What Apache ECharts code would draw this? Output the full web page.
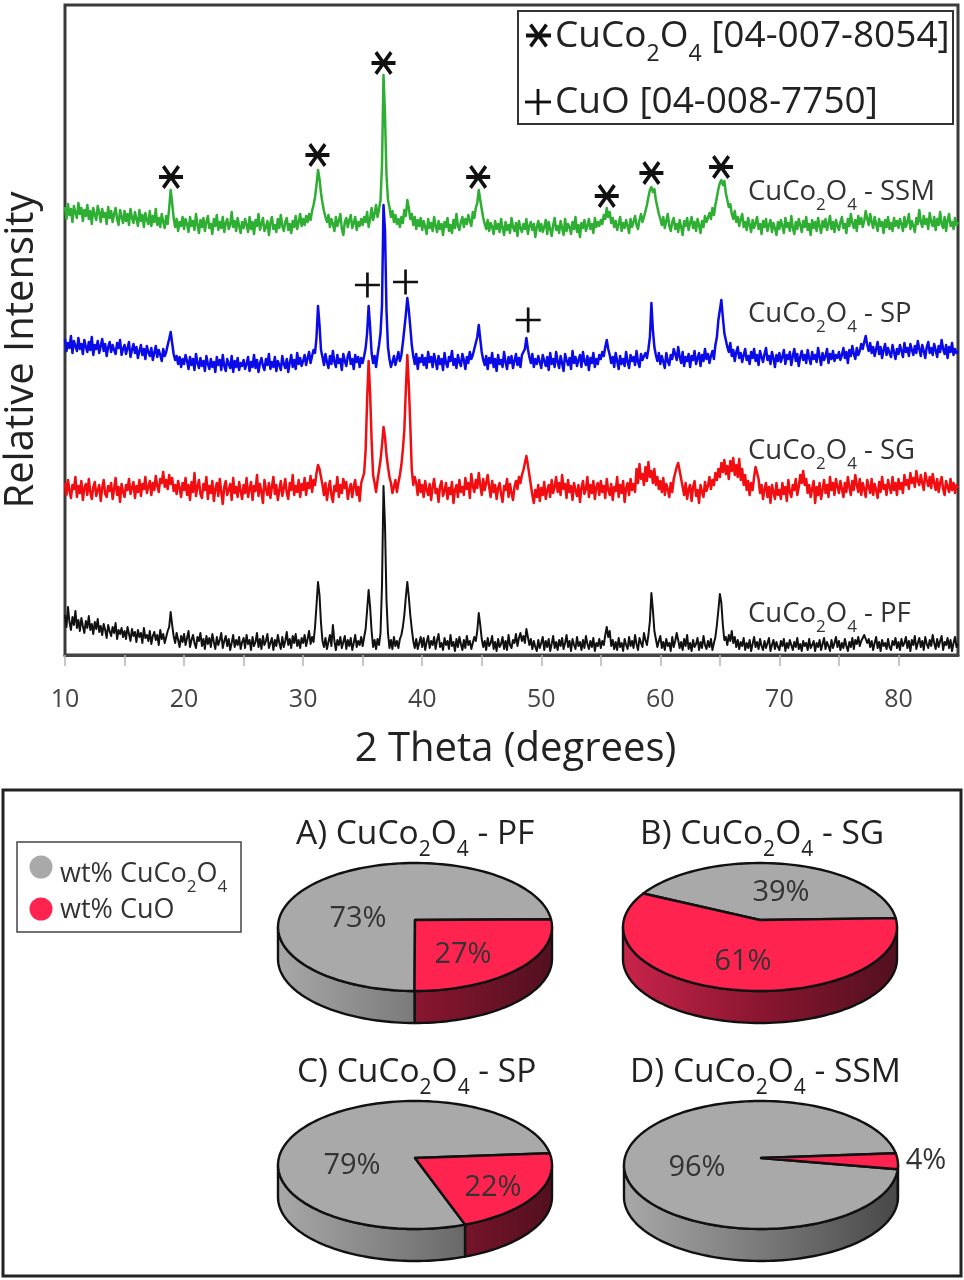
<!DOCTYPE html>
<html>
<head>
<meta charset="utf-8">
<style>html,body{margin:0;padding:0;background:#fff}#chart{width:964px;height:1280px}</style>
<script src="https://cdn.jsdelivr.net/npm/echarts@6/dist/echarts.min.js"></script>
</head>
<body>
<div id="chart"></div>
<script>
// Diffraction scans, stacked with vertical offsets. One row per 5 degrees, 0.125 degree step.
const spectrumSSM = [
448,436,451,440,446,433,449,442,437,452,441,447,434,445,439,450,436,444,431,447,440,435,449,443,433,446,438,442,431,448,437,444,433,441,447,436,430,445,438,432,
444,434,441,430,446,437,432,443,436,429,445,434,440,428,442,435,431,444,429,439,433,446,430,437,428,441,433,427,439,431,447,465,452,437,428,436,424,433,429,438,
426,436,431,423,438,429,434,425,441,430,422,435,428,437,424,433,439,427,431,421,436,429,440,425,433,427,438,423,432,436,426,430,443,428,434,424,437,429,422,433,
427,436,430,423,438,426,433,421,435,429,441,425,431,437,424,428,434,420,432,438,426,430,423,436,427,440,429,424,433,437,425,431,422,434,428,439,426,433,441,429,
436,430,439,433,441,435,444,450,458,470,485,476,462,452,444,438,433,440,428,436,431,424,438,429,434,441,426,420,433,437,428,435,440,427,432,438,425,433,429,436,
430,438,433,443,428,436,447,435,441,450,438,446,455,490,580,540,480,455,448,438,444,433,440,431,436,428,438,432,445,439,455,447,436,441,430,438,426,435,429,437,
425,434,428,421,436,427,432,424,438,429,423,434,426,431,420,433,428,437,424,430,422,435,427,441,429,425,433,438,428,436,431,440,434,429,443,437,447,452,465,455,
446,437,431,426,435,424,432,428,421,434,426,431,423,436,427,420,433,425,430,422,437,428,424,432,419,434,427,423,431,426,436,421,429,433,425,431,418,428,434,424,
431,423,428,435,421,433,426,419,430,437,425,429,422,434,427,420,436,424,431,428,421,433,426,438,423,430,418,432,427,435,424,429,436,426,431,422,437,428,433,429,
435,431,440,436,447,438,443,432,437,428,434,425,431,438,424,432,427,435,429,422,436,428,433,439,430,426,435,441,433,438,444,450,458,465,468,463,466,455,448,441,
436,430,438,427,434,441,429,424,433,437,426,431,423,435,428,420,434,429,437,425,432,438,427,433,424,436,430,422,434,428,439,433,437,442,436,447,440,450,458,466,
472,475,470,474,462,455,448,451,441,436,444,433,438,429,436,441,428,433,425,437,430,423,435,427,432,438,426,431,421,434,428,436,424,430,435,423,432,427,420,433,
426,435,429,422,437,428,432,424,439,427,421,433,426,436,430,423,434,428,438,425,431,420,435,427,433,424,437,429,422,434,428,436,425,431,439,426,433,423,435,429,
425,433,438,427,431,422,436,429,441,432,427,435,424,439,431,437,428,434,444,436,430,441,433,427,438,431,424,436,429,433,422,435,428,438,426,432,424,437,429,434,
427,436,431,424,438,428,433,441,426,434,429,423,437,431,445,433,428,439,431,436,426,442,433,429,438,425,436,430,443,431,427,438,424,435,441,429,433,426,437,430,
433];
const spectrumSP = [
316,304,312,307,319,302,314,309,304,317,306,311,301,315,308,303,313,305,318,300,310,306,314,302,309,316,304,311,299,308,313,303,310,305,301,312,307,315,300,306,
310,301,307,313,298,305,311,302,308,297,304,310,300,306,296,309,303,299,307,295,302,309,298,305,300,294,306,299,303,310,316,323,312,301,295,299,291,298,288,296,
291,300,294,286,298,290,296,285,301,292,287,297,289,294,284,299,291,286,296,288,293,283,298,290,295,285,300,289,284,296,291,287,299,283,294,288,297,285,292,289,
295,286,291,298,284,293,288,300,287,295,283,292,297,289,285,296,290,301,286,293,288,298,284,294,290,285,299,291,287,296,283,292,300,288,295,286,302,291,297,289,
294,300,290,297,303,292,299,305,302,318,349,330,305,298,290,301,293,287,299,291,304,293,288,300,292,296,285,301,294,289,299,303,291,296,286,300,293,298,288,297,
292,299,307,322,349,328,302,292,299,288,300,310,322,350,450,425,345,308,296,288,293,299,290,296,303,294,300,312,326,340,357,345,328,310,299,291,301,286,297,293,
300,290,297,287,303,293,298,288,301,294,286,299,291,296,285,302,292,288,298,294,304,290,296,287,300,293,289,301,295,286,298,292,303,296,300,306,312,318,330,316,
303,295,290,299,286,297,292,302,288,296,284,300,291,295,288,303,293,286,298,292,299,287,294,301,290,297,288,300,302,306,317,306,298,292,301,288,296,291,299,293,
287,300,294,289,298,285,302,291,296,288,303,293,287,299,292,284,301,295,290,297,286,304,292,298,289,295,300,288,303,294,290,299,285,297,292,302,288,296,291,300,
296,303,299,308,315,306,300,292,298,288,302,294,286,299,291,296,289,303,293,287,300,294,298,290,304,293,288,301,295,299,302,297,306,318,352,325,308,300,294,302,
291,299,293,287,302,294,290,300,296,306,301,295,308,298,292,303,289,298,294,301,288,299,295,304,291,297,302,289,300,294,306,296,301,292,299,304,296,310,318,335,
345,355,338,322,315,308,303,312,299,305,294,303,308,297,302,293,300,306,295,299,291,303,297,306,294,300,290,304,298,293,301,307,295,299,291,303,297,288,300,294,
302,293,298,305,291,300,296,303,290,299,306,294,301,289,298,304,295,300,292,305,297,291,303,296,300,293,307,298,290,302,295,299,306,292,301,296,304,294,300,297,
303,295,300,307,297,303,292,305,299,309,301,296,307,300,304,311,306,313,319,310,304,312,302,308,299,306,313,301,308,297,305,311,300,307,302,298,310,303,296,306,
301,310,304,298,312,303,307,299,311,305,300,309,302,314,306,299,310,304,297,308,313,302,307,300,311,305,298,309,303,315,306,301,310,297,308,303,312,300,306,302,
304];
const spectrumSG = [
172,160,175,164,157,170,166,178,158,169,162,174,155,167,171,160,176,163,156,168,173,159,165,170,154,167,175,161,158,169,164,172,156,166,177,160,168,153,171,163,
158,170,165,176,161,167,173,157,169,163,175,159,171,166,178,162,168,174,160,172,165,179,169,163,176,172,183,168,175,166,180,171,177,164,170,161,174,167,158,172,
165,177,160,170,155,173,163,182,159,168,175,161,157,171,165,178,156,169,162,174,154,166,172,159,176,163,151,168,174,160,165,171,155,177,162,168,158,173,164,156,
170,162,177,158,166,173,155,169,164,180,159,171,163,152,175,166,160,172,157,168,178,161,170,155,165,174,159,167,176,162,156,172,165,180,160,169,163,175,158,171,
165,177,160,172,167,179,163,175,170,182,190,186,178,170,160,172,155,166,174,160,153,169,164,178,158,170,162,176,167,173,156,165,171,158,169,175,160,168,154,172,
170,182,205,255,294,262,215,180,172,163,175,185,195,210,228,218,200,188,178,172,162,168,175,163,172,180,190,205,225,265,300,270,230,185,170,178,172,160,175,163,
170,158,174,165,160,171,155,168,176,162,166,153,169,174,159,164,172,156,167,161,173,152,165,170,158,175,163,168,160,177,166,172,157,181,169,163,175,167,182,170,
160,176,165,172,180,168,158,174,163,170,156,167,172,161,153,169,165,176,158,171,162,155,168,174,166,178,172,180,185,192,199,190,180,170,160,152,165,158,170,154,
167,160,173,156,165,170,158,175,162,168,178,163,172,160,180,166,171,157,175,163,169,155,172,165,159,170,153,167,174,161,166,178,158,170,162,174,156,168,172,160,
174,163,169,157,176,165,160,171,155,168,164,178,158,170,162,174,153,167,172,160,176,165,171,163,186,172,191,176,181,170,188,174,193,178,184,172,186,170,178,166,
174,163,177,160,171,166,158,172,163,176,182,188,192,184,176,168,160,172,156,166,170,154,168,174,159,165,152,170,163,158,173,164,169,178,166,175,170,182,175,186,
178,192,183,195,181,189,176,194,184,197,180,190,178,196,175,186,170,180,165,174,160,172,165,178,188,182,176,162,170,156,166,172,158,168,152,170,163,156,172,160,
165,156,172,161,168,154,175,163,158,170,165,176,160,168,180,172,184,170,176,162,170,158,166,174,152,168,160,172,156,165,175,162,170,158,178,165,172,160,176,168,
162,174,166,158,172,163,178,168,160,174,165,180,170,163,176,160,172,166,158,175,168,162,176,160,171,165,157,173,163,178,166,170,160,175,168,162,178,165,172,160,
176,166,172,162,180,170,175,166,182,172,177,168,184,174,170,180,172,165,182,175,169,178,167,181,172,165,176,163,172,178,166,160,174,168,163,176,165,172,162,170,
167];
const spectrumPF = [
40,28,48,33,25,38,30,44,27,35,24,37,29,22,34,27,39,25,31,21,33,26,36,23,29,20,31,25,17,30,24,19,28,22,32,16,25,21,27,18,
24,16,28,21,14,26,19,23,13,25,18,22,12,27,17,20,14,24,11,19,23,15,20,10,25,16,21,12,18,24,28,43,30,19,12,22,15,8,19,13,
21,10,17,24,8,15,20,12,7,18,14,22,9,16,6,19,11,17,8,21,13,6,18,10,15,22,7,14,19,9,16,5,12,20,8,15,10,18,6,13,
17,7,20,11,15,5,18,9,13,22,8,16,6,19,10,14,21,7,12,17,5,15,9,20,12,6,18,8,14,23,10,16,7,19,12,21,9,15,7,17,
12,20,9,16,24,11,18,13,28,50,73,60,32,14,8,17,6,13,20,9,30,14,5,15,10,18,7,13,19,6,15,9,17,5,12,20,8,14,10,18,
9,18,26,45,65,48,24,8,15,6,16,10,22,70,169,130,55,22,7,15,6,18,9,14,7,16,20,28,40,58,73,58,40,26,14,7,16,6,12,18,
8,17,5,13,19,7,14,10,18,6,15,21,8,12,5,17,10,14,6,20,9,13,4,16,8,18,11,5,15,7,19,10,14,6,12,18,14,24,42,30,
16,8,14,5,17,9,12,19,6,13,4,16,8,11,18,6,14,5,20,10,7,15,12,21,9,17,22,14,19,12,26,18,10,16,6,14,8,4,15,7,
12,18,5,14,8,16,4,11,19,7,13,5,15,9,17,6,12,20,8,14,4,16,10,6,18,9,13,5,15,7,19,11,6,14,8,17,4,12,9,16,
7,14,10,20,28,18,24,9,15,6,13,5,17,8,12,4,16,10,6,18,9,14,7,20,11,5,17,12,8,22,15,10,20,34,62,45,24,16,8,14,
19,7,13,5,16,9,12,4,18,8,14,22,15,7,13,5,16,9,20,6,12,4,15,8,11,17,5,13,7,19,10,6,14,8,16,5,12,18,30,45,
61,52,30,15,18,10,20,14,24,12,18,8,15,6,13,9,17,5,12,7,15,4,11,18,8,13,6,16,9,5,14,7,12,17,4,10,15,6,13,8,
5,14,9,16,4,12,7,15,10,5,13,8,17,6,11,4,14,9,12,5,16,7,10,14,4,12,8,15,5,11,17,6,13,9,4,15,7,12,18,8,
14,5,12,7,16,9,4,13,8,17,6,15,11,18,9,14,16,20,22,12,16,8,14,5,12,18,7,13,4,15,9,12,6,16,8,5,14,10,17,7,
13,5,16,9,12,18,7,14,4,15,10,19,6,12,17,8,14,5,18,11,7,15,9,20,12,6,16,8,14,19,5,13,10,17,7,15,4,12,18,8,
11];

// Reflection markers above the scans: [two theta, height]
const spinelPeaks = [[18.9,478],[31.2,500],[36.75,592],[44.7,478],[55.5,459],[59.25,482],[65.1,488]];
const oxidePeaks = [[35.4,370],[38.6,373],[48.9,335]];

// Phase fractions per synthesis route, wt%
const routes = ['PF','SG','SP','SSM'];
const routeLetters = ['A','B','C','D'];
const wtSpinel = [73,39,79,96];
const wtOxide = [27,61,22,4];

const FONT = '"Open Sans", "Noto Sans", sans-serif';
const GREEN = '#2eae33', BLUE = '#0b0be8', RED = '#f20d10', BLACK = '#111111';
const PIE_GREY = '#a9a9a9', PIE_RED = '#ff2450';

const START_ANGLE = 10, STEP = 0.125;
const withAngles = vals => vals.map((v, i) => [START_ANGLE + i * STEP, v]);

const STAR_PATH = 'path://M0 10.1H24V13.9H0ZM5.7 .4L21 21.3L18.3 23.6L3 2.7ZM18.3 .4L21 2.7L5.7 23.6L3 21.3Z';
const PLUS_PATH = 'path://M0 10.7H24V13.3H0ZM10.7 0H13.3V24H10.7Z';
const STAR_BARS = [[[0,10.1],[24,10.1],[24,13.9],[0,13.9]], [[5.7,.4],[21,21.3],[18.3,23.6],[3,2.7]], [[18.3,.4],[21,2.7],[5.7,23.6],[3,21.3]]];
const PLUS_BARS = [[[0,10.7],[24,10.7],[24,13.3],[0,13.3]], [[10.7,0],[13.3,0],[13.3,24],[10.7,24]]];
// Key glyph built from bars in a 24-unit box
function keyGlyph(bars, x, y, size) {
  const k = size / 24;
  return {type: 'group', x, y, z: 20, scaleX: k, scaleY: k, children: bars.map(points => ({
    type: 'polygon', z: 20, shape: {points}, style: {fill: '#111'}
  }))};
}

// Formula text with subscripts as rich tokens
function chem(before, after, size, color) {
  const sub = Math.round(size * 0.62), lh = Math.round(size * 1.6);
  return {
    text: `{n|${before}CuCo}{s|2}{n|O}{s|4}{n|${after}}`,
    rich: {
      n: {font: `${size}px ${FONT}`, fontSize: size, fontFamily: FONT, fill: color, lineHeight: lh, verticalAlign: 'middle'},
      s: {font: `${sub}px ${FONT}`, fontSize: sub, fontFamily: FONT, fill: color, lineHeight: lh, verticalAlign: 'bottom'}
    }
  };
}
function textAt(x, y, content, extra) {
  return {type: 'text', x, y, z: 20, style: Object.assign({textVerticalAlign: 'middle', verticalAlign: 'middle'}, content, extra || {})};
}
function plain(text, size, color) {
  return {text, font: `${size}px ${FONT}`, fill: color};
}

// Placement of the four disc charts
const discGeometry = [
  {cx: 415, cy: 927, start: -7, title: [296, 834], labels: [[358, 919], [463, 955]]},
  {cx: 760, cy: 927, start: -8, title: [640, 834], labels: [[781, 893], [743, 962]]},
  {cx: 415, cy: 1165, start: -10.6, title: [297, 1072], labels: [[352, 1166], [493, 1188]]},
  {cx: 761, cy: 1165, start: -10.6, title: [630, 1072], labels: [[697, 1168], [926, 1161]]}
];
const DISC_RX = 137, DISC_RY = 64, DISC_DEPTH = 32, APEX_LIFT = 7;

function renderDisc(params, api) {
  const i = api.value(0), oxide = api.value(1), spinel = api.value(2);
  const g = discGeometry[i];
  const rim = deg => {
    const t = deg * Math.PI / 180;
    return [g.cx + DISC_RX * Math.cos(t), g.cy + DISC_RY * Math.sin(t)];
  };
  const arc = (from, to) => {
    const pts = [], n = Math.max(2, Math.ceil(Math.abs(to - from) / 2));
    for (let k = 0; k <= n; k++) pts.push(rim(from + (to - from) * k / n));
    return pts;
  };
  const apex = [g.cx, g.cy - APEX_LIFT];
  const outline = {stroke: '#111', lineWidth: 2.4, lineJoin: 'round'};
  const wallFill = (light, mid, dark) => new echarts.graphic.LinearGradient(
    g.cx - DISC_RX, 0, g.cx + DISC_RX, 0,
    [{offset: 0, color: light}, {offset: 0.5, color: mid}, {offset: 1, color: dark}], true);
  const greyWall = wallFill('#a8a8a8', '#7a7a7a', '#484848');
  const redWall = wallFill('#c8244a', '#8a1630', '#52101f');

  const oxideStart = g.start, oxideEnd = g.start + oxide / 100 * 360, fullEnd = g.start + 360;
  const children = [];
  // side wall: only the front half of the rim is visible
  const addWall = (from, to, fill) => {
    const a = Math.max(from, 0), b = Math.min(to, 180);
    if (b <= a) return;
    const top = arc(a, b);
    const bottom = top.map(p => [p[0], p[1] + DISC_DEPTH]).reverse();
    children.push({type: 'polygon', shape: {points: top.concat(bottom)}, style: Object.assign({fill}, outline)});
  };
  addWall(oxideStart, oxideEnd, redWall);
  addWall(oxideEnd, fullEnd, greyWall);
  // top face
  children.push({type: 'polygon', shape: {points: [apex].concat(arc(oxideEnd, fullEnd))}, style: Object.assign({fill: PIE_GREY}, outline)});
  children.push({type: 'polygon', shape: {points: [apex].concat(arc(oxideStart, oxideEnd))}, style: Object.assign({fill: PIE_RED}, outline)});
  // percentage labels
  [spinel, oxide].forEach((v, k) => {
    children.push({type: 'text', x: g.labels[k][0], y: g.labels[k][1], style: {
      text: v + '%', font: `29px ${FONT}`, fill: '#333', textAlign: 'center', textVerticalAlign: 'middle', align: 'center', verticalAlign: 'middle'
    }});
  });
  return {type: 'group', children};
}

const graphicItems = [
  // phase key inside the scan frame
  {type: 'rect', z: 15, shape: {x: 518, y: 11, width: 435, height: 113}, style: {fill: '#fff', stroke: '#333', lineWidth: 2}},
  keyGlyph(STAR_BARS, 526, 23, 25),
  keyGlyph(PLUS_BARS, 525, 89, 26),
  textAt(555, 36, chem('', ' [04-007-8054]', 37, '#222')),
  textAt(555, 102, plain('CuO [04-008-7750]', 37, '#222')),
  // trace names
  textAt(748, 192, chem('', ' - SSM', 27.5, '#333')),
  textAt(748, 314, chem('', ' - SP', 27.5, '#333')),
  textAt(748, 451, chem('', ' - SG', 27.5, '#333')),
  textAt(748, 614, chem('', ' - PF', 27.5, '#333')),
  // lower panel frame and phase key
  {type: 'rect', z: 1, shape: {x: 3, y: 790, width: 958, height: 486}, style: {fill: 'none', stroke: '#222', lineWidth: 3}},
  {type: 'rect', z: 2, shape: {x: 17, y: 842, width: 224, height: 90}, style: {fill: '#fff', stroke: '#444', lineWidth: 1.5}},
  {type: 'circle', z: 3, shape: {cx: 41, cy: 867, r: 11.5}, style: {fill: PIE_GREY}},
  {type: 'circle', z: 3, shape: {cx: 41, cy: 909, r: 11.5}, style: {fill: PIE_RED}},
  textAt(60, 874, chem('wt% ', '', 27, '#333')),
  textAt(60, 910, plain('wt% CuO', 27, '#333'))
];
routes.forEach((r, i) => {
  const t = discGeometry[i].title;
  graphicItems.push(textAt(t[0], t[1], chem(routeLetters[i] + ') ', ' - ' + r, 33.5, '#222')));
});

const chart = echarts.init(document.getElementById('chart'), null, {renderer: 'canvas'});
const traceSeries = (data, color, width) => ({
  type: 'line', data: withAngles(data), showSymbol: false, symbol: 'none', sampling: false,
  lineStyle: {color, width, join: 'round'}, silent: true, animation: false, z: 3
});
const markerSeries = (data, path, size) => ({
  type: 'scatter', data, symbol: path, symbolSize: size, itemStyle: {color: '#111', opacity: 1}, silent: true, z: 6, animation: false
});

chart.setOption({
  animation: false,
  backgroundColor: '#fff',
  grid: {left: 65, right: 6, top: 5, bottom: 625, outerBoundsMode: 'none', containLabel: false, show: true, borderColor: '#3a3a3a', borderWidth: 3, backgroundColor: '#fff'},
  xAxis: {
    type: 'value', min: 10, max: 85, interval: 5,
    name: '2 Theta (degrees)', nameLocation: 'middle', nameGap: 75,
    nameTextStyle: {fontFamily: FONT, fontSize: 40, color: '#222', padding: [0, 0, 0, 8]},
    axisLine: {show: true, onZero: false, lineStyle: {color: '#444', width: 3}},
    axisTick: {show: true, length: 11, lineStyle: {color: '#b5b5b5', width: 1.5}},
    axisLabel: {
      show: true, margin: 32, fontFamily: FONT, fontSize: 25, color: '#444',
      showMinLabel: true, showMaxLabel: false,
      formatter: v => (v % 10 === 0 ? String(v) : '')
    },
    splitLine: {show: false}
  },
  yAxis: {
    type: 'value', min: 0, max: 650,
    name: 'Relative Intensity', nameLocation: 'middle', nameGap: 23, nameRotate: 90,
    nameTextStyle: {fontFamily: FONT, fontSize: 40, color: '#222', padding: [0, 40, 0, 0]},
    axisLine: {show: false}, axisTick: {show: false}, axisLabel: {show: false}, splitLine: {show: false}
  },
  graphic: {elements: graphicItems},
  series: [
    traceSeries(spectrumSSM, GREEN, 2.5),
    traceSeries(spectrumPF, BLACK, 2),
    traceSeries(spectrumSG, RED, 2.5),
    traceSeries(spectrumSP, BLUE, 2.5),
    markerSeries(spinelPeaks, STAR_PATH, 24),
    markerSeries(oxidePeaks, PLUS_PATH, 25),
    {
      type: 'custom', coordinateSystem: 'none', renderItem: renderDisc, silent: true, z: 10, clip: false,
      data: routes.map((r, i) => [i, wtOxide[i], wtSpinel[i]])
    }
  ]
});
</script>
</body>
</html>
